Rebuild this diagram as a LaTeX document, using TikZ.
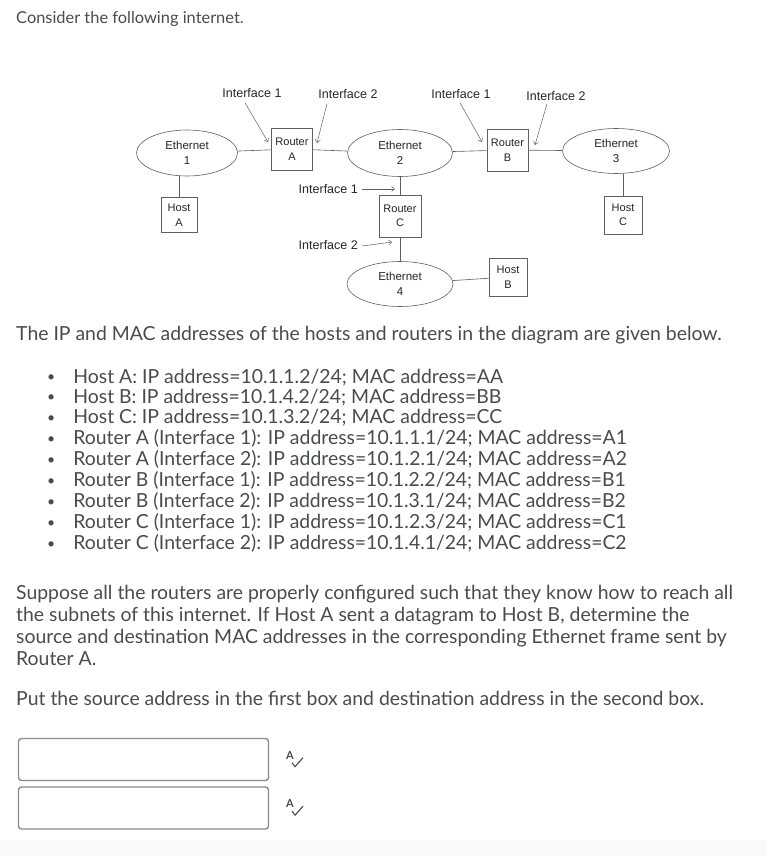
\documentclass[tikz,border=0pt]{standalone}
\usepackage{fontspec}
\setmainfont{Lato}
\newfontfamily\diagfont{Liberation Sans}
\usetikzlibrary{shapes.geometric,arrows.meta}
\definecolor{txtgray}{RGB}{73,76,78}
\definecolor{ansgray}{RGB}{137,141,144}
\definecolor{bandgray}{RGB}{249,249,249}
\definecolor{diagline}{RGB}{96,96,96}
\newcommand{\smallbul}{\raisebox{1.5pt}{\fontsize{14}{14}\selectfont\textbullet}}
\begin{document}
\begin{tikzpicture}[x=1pt,y=-1pt,
    net/.style={
        ellipse, draw=diagline, line width=0.6pt, inner sep=0pt,
        align=center, text=black!85,
        font=\diagfont\fontsize{11.5}{14.5}\selectfont
    },
    dev/.style={
        rectangle, draw=diagline, line width=0.6pt, inner sep=0pt,
        minimum width=40pt, minimum height=40pt,
        align=center, text=black!85,
        font=\diagfont\fontsize{11}{14.5}\selectfont
    },
    iflabel/.style={
        inner sep=0pt, text=black!85,
        font=\diagfont\fontsize{12.5}{14}\selectfont
    },
    link/.style={diagline, line width=0.6pt},
    ptr/.style={-{Straight Barb[length=3pt,width=5pt]}, diagline, line width=0.5pt},
    para/.style={anchor=base west, align=left, inner sep=0pt, text=txtgray,
        font=\fontsize{19.4}{21.8}\selectfont},
    ansbox/.style={draw=ansgray, line width=1.4pt, rounded corners=3pt,
        minimum width=250pt, minimum height=42pt},
    spell/.style={inner sep=0pt, text=txtgray, font=\bfseries\fontsize{11}{11}\selectfont}
]
\useasboundingbox (0,0) rectangle (766,856);
\fill[white] (0,0) rectangle (766,856);
\fill[bandgray] (0,840) rectangle (766,856);

% ==================== QUESTION TEXT ====================
\node[para, font=\fontsize{16.4}{18}\selectfont] (intro) at (16,24) {Consider the following internet.};

% ==================== NETWORKS ====================
\node[net, minimum width=101pt, minimum height=46pt] (eth1) at (187,153) {Ethernet\\1};
\node[net, minimum width=105pt, minimum height=47pt] (eth2) at (400,153) {Ethernet\\2};
\node[net, minimum width=107pt, minimum height=45pt] (eth3) at (616,151) {Ethernet\\3};
\node[net, minimum width=106pt, minimum height=45pt] (eth4) at (400,284) {Ethernet\\4};

% ==================== ROUTERS / HOSTS ====================
\node[dev, minimum width=41pt, minimum height=42pt] (rtrA) at (292,149) {Router\\A};
\node[dev, minimum width=41pt, minimum height=42pt] (rtrB) at (507.5,150) {Router\\B};
\node[dev, minimum width=42pt, minimum height=42pt] (rtrC) at (400,216) {Router\\C};
\node[dev, minimum width=36pt, minimum height=35pt] (hostA) at (179,215) {Host\\A};
\node[dev, minimum width=38pt, minimum height=38pt] (hostB) at (508,277) {Host\\B};
\node[dev, minimum width=38pt, minimum height=38pt] (hostC) at (623,215) {Host\\C};

% ==================== LINKS ====================
\draw[link] (eth1) -- (rtrA);
\draw[link] (rtrA) -- (eth2);
\draw[link] (eth2) -- (rtrB);
\draw[link] (rtrB) -- (eth3);
\draw[link] (hostA.north) -- (hostA.north |- eth1.south);
\draw[link] (hostC.north) -- (hostC.north |- eth3.south);
\draw[link] (eth2.south) -- (rtrC.north);
\draw[link] (rtrC.south) -- (eth4.north);
\draw[link] (eth4) -- (hostB);

% ==================== INTERFACE LABELS ====================
\node[iflabel] (ifA1) at (252,93) {Interface 1};
\node[iflabel] (ifA2) at (348,94) {Interface 2};
\node[iflabel] (ifB1) at (461,94) {Interface 1};
\node[iflabel] (ifB2) at (556,96) {Interface 2};
\node[iflabel, anchor=east] (ifC1) at (358,189) {Interface 1};
\node[iflabel, anchor=east] (ifC2) at (358,245) {Interface 2};

\coordinate (tipA1) at (268,142);
\coordinate (tipA2) at (317,143);
\coordinate (tipB1) at (482,142);
\coordinate (tipB2) at (535,145);
\coordinate (tipC1) at (395,189);
\coordinate (tipC2) at (392,242);

\draw[ptr] ([xshift=-7pt,yshift=-5pt]ifA1.south) -- (tipA1);
\draw[ptr] ([xshift=-21pt,yshift=-5pt]ifA2.south) -- (tipA2);
\draw[ptr] ([xshift=-1pt,yshift=-4pt]ifB1.south) -- (tipB1);
\draw[ptr] ([xshift=-9pt,yshift=-3pt]ifB2.south) -- (tipB2);
\draw[ptr] ([xshift=4pt]ifC1.east) -- (tipC1);
\draw[ptr] ([xshift=4pt,yshift=-1pt]ifC2.east) -- (tipC2);

% ==================== ADDRESS LIST ====================
\node[para] (given) at (16,340) {The IP and MAC addresses of the hosts and routers in the diagram are given below.};
\node[para, font=\fontsize{19.4}{20}\selectfont] (addr) at (47,383) {%
\begin{tabular}[t]{@{}c@{\hspace{18pt}}l@{}}
\smallbul & Host A: IP address=10.1.1.2/24; MAC address=AA\\
\smallbul & Host B: IP address=10.1.4.2/24; MAC address=BB\\
\smallbul & Host C: IP address=10.1.3.2/24; MAC address=CC\\
\smallbul & Router A (Interface 1): IP address=10.1.1.1/24; MAC address=A1\\
\smallbul & Router A (Interface 2): IP address=10.1.2.1/24; MAC address=A2\\
\smallbul & Router B (Interface 1): IP address=10.1.2.2/24; MAC address=B1\\
\smallbul & Router B (Interface 2): IP address=10.1.3.1/24; MAC address=B2\\
\smallbul & Router C (Interface 1): IP address=10.1.2.3/24; MAC address=C1\\
\smallbul & Router C (Interface 2): IP address=10.1.4.1/24; MAC address=C2
\end{tabular}};

% ==================== QUESTION ====================
% base of a multi-line node is its last line
\node[para] (task) at (16,665) {Suppose all the routers are properly configured such that they know how to reach all\\
the subnets of this internet. If Host A sent a datagram to Host B, determine the\\
source and destination MAC addresses in the corresponding Ethernet frame sent by\\
Router A.};
\node[para] (hint) at (16,705) {Put the source address in the first box and destination address in the second box.};

% ==================== ANSWER BOXES ====================
\node[ansbox] (ans1) at (143.5,759.5) {};
\node[ansbox] (ans2) at (143.5,808) {};
\node[spell] (chk1) at (290,755.5) {A};
\node[spell] (chk2) at (290,804) {A};
\draw[txtgray, line width=1.1pt] ([shift={(-2,3)}]chk1.south east) -- ++(3,4) -- ++(8,-9);
\draw[txtgray, line width=1.1pt] ([shift={(-2,3)}]chk2.south east) -- ++(3,4) -- ++(8,-9);

\end{tikzpicture}
\end{document}
